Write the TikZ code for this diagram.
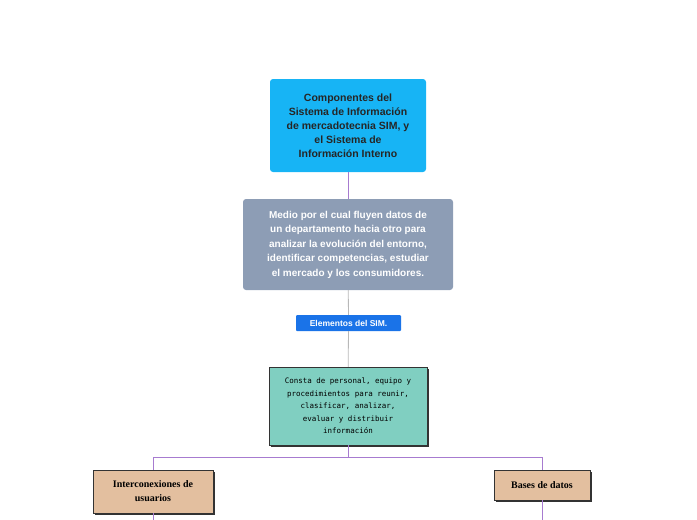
\documentclass[tikz,border=0pt]{standalone}
\usepackage{fontspec}
\setmainfont{Liberation Sans}
\newfontfamily\monof{DejaVu Sans Mono}
\newfontfamily\serf{Liberation Serif}
\usetikzlibrary{shadows}
\definecolor{cyanb}{HTML}{17B4F5}
\definecolor{greyb}{HTML}{8D9DB5}
\definecolor{blueb}{HTML}{1A73E8}
\definecolor{tealb}{HTML}{80CFC1}
\definecolor{tanb}{HTML}{E3BF9F}
\definecolor{purp}{HTML}{A77BD0}
\definecolor{lgrey}{HTML}{B8B8B8}
\tikzset{
 topbox/.style={fill=cyanb,rounded corners=3pt,minimum width=156pt,minimum height=93pt,align=center,font=\bfseries\fontsize{10.5}{14}\selectfont,text=black!85},
 greybox/.style={fill=greyb,rounded corners=3pt,minimum width=210pt,minimum height=91pt,align=center,text=white,font=\bfseries\fontsize{10}{14.5}\selectfont},
 lab/.style={fill=blueb,rounded corners=1pt,text=white,font=\bfseries\fontsize{8.5}{10}\selectfont,minimum width=105pt,minimum height=16pt,inner sep=1pt},
 tealbox/.style={fill=tealb,draw=black!80,minimum width=158pt,minimum height=78pt,align=center,font=\monof\fontsize{7.5}{12.5}\selectfont,drop shadow={shadow xshift=2pt,shadow yshift=-2pt,fill=black!80,opacity=1}},
 tanbox/.style={fill=tanb,draw=black!80,align=center,font=\serf\bfseries\fontsize{10}{14}\selectfont,drop shadow={shadow xshift=2pt,shadow yshift=-2pt,fill=black!80,opacity=1}},
 pl/.style={draw=purp,line width=0.8pt},
 gl/.style={draw=lgrey,line width=0.8pt}
}
\begin{document}
\begin{tikzpicture}[x=1pt,y=-1pt]
\useasboundingbox (0,0) rectangle (697,520);
\node[topbox] (top) at (348,125.5) {Componentes del\\Sistema de Información\\de mercadotecnia SIM, y\\el Sistema de\\Información Interno};
\node[greybox] (med) at (348,244.5) {Medio por el cual fluyen datos de\\un departamento hacia otro para\\analizar la evolución del entorno,\\identificar competencias, estudiar\\el mercado y los consumidores.};
\node[lab] (el) at (348.5,323) {Elementos del SIM.};
\node[tealbox] (con) at (348,406) {Consta de personal, equipo y\\procedimientos para reunir,\\clasificar, analizar,\\evaluar y distribuir\\información};
\node[tanbox,minimum width=120pt,minimum height=43pt] (int) at (153,491.5) {Interconexiones de\\usuarios};
\node[tanbox,minimum width=96pt,minimum height=30pt] (bas) at (542,485) {Bases de datos};
\coordinate (j) at (348,457);
\coordinate (jl) at (153,457);
\coordinate (jr) at (542,457);
\coordinate (el2) at (153,520);
\coordinate (er2) at (542,520);
\draw[pl] (top) -- (med);
\draw[gl] (med) -- (el);
\draw[gl] (el) -- (con);
\draw[pl] (con) -- (j) (jl) -- (jr) (jl) -- (int) (jr) -- (bas);
\draw[pl] (int) -- (el2) (bas) -- (er2);
\end{tikzpicture}
\end{document}
